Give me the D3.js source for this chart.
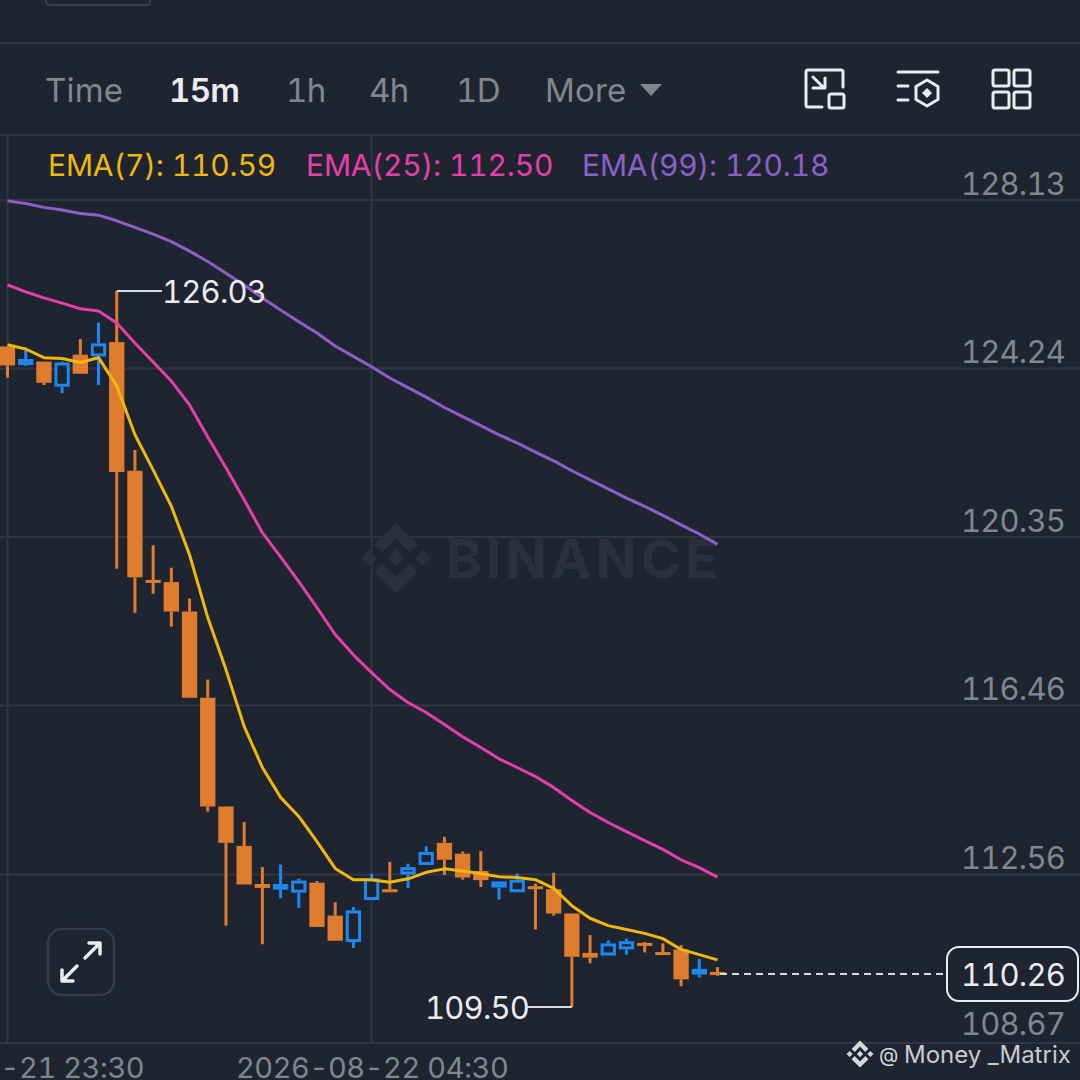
<!DOCTYPE html>
<html>
<head>
<meta charset="utf-8">
<script src="https://cdn.jsdelivr.net/npm/d3@7"></script>
<style>
html,body{margin:0;padding:0;background:#1f2530;}
svg{display:block;font-family:Inter,"Noto Sans",sans-serif;font-variant-numeric:tabular-nums;}
</style>
</head>
<body>
<svg id="chart" width="1080" height="1080"></svg>
<script>
var opens  = [124.75,124.32,124.40,123.82,124.56,124.52,124.85,121.88,119.36,119.31,118.63,116.64,114.13,113.22,112.34,112.21,112.14,112.37,111.61,111.00,111.97,112.22,112.56,112.78,113.29,113.04,112.64,112.26,112.15,112.29,112.22,111.66,110.75,110.69,110.83,110.98,110.77,110.83,110.25,110.31]
var highs  = [124.75,124.72,124.40,124.40,124.92,125.30,126.03,122.36,120.16,119.64,118.93,117.06,114.13,113.77,112.73,112.79,112.46,112.41,111.92,111.81,112.58,112.85,112.81,113.21,113.43,113.09,113.10,112.40,112.58,112.35,112.60,111.66,111.16,111.04,111.08,111.00,110.97,110.93,110.61,110.42]
var lows   = [124.03,124.30,123.86,123.67,124.12,123.86,119.62,118.60,119.04,118.28,116.64,114.01,111.38,112.33,110.95,112.01,111.79,111.35,111.03,110.86,111.97,112.15,112.25,112.78,112.55,112.44,112.27,111.98,112.15,111.29,111.61,109.50,110.51,110.69,110.71,110.76,110.70,109.98,110.18,110.22]
var closes = [124.31,124.46,123.91,124.38,124.12,124.82,121.85,119.42,119.30,118.63,116.64,114.13,113.29,112.33,112.25,112.34,112.42,111.35,111.03,111.73,112.47,112.15,112.73,113.08,112.90,112.49,112.43,112.40,112.44,112.22,111.66,110.66,110.64,110.97,111.02,110.91,110.70,110.14,110.38,110.26]
var ema7   = [124.79,124.69,124.49,124.47,124.38,124.49,123.84,122.71,121.90,121.06,119.94,118.49,117.29,115.98,115.03,114.34,113.90,113.32,112.70,112.44,112.44,112.38,112.46,112.61,112.69,112.64,112.58,112.51,112.49,112.44,112.24,111.84,111.55,111.38,111.29,111.20,111.08,110.83,110.71,110.59]
var ema25  = [126.17,126.01,125.87,125.75,125.62,125.57,125.29,124.83,124.39,123.95,123.40,122.66,121.95,121.21,120.45,119.89,119.32,118.72,118.10,117.63,117.22,116.83,116.53,116.30,116.02,115.74,115.49,115.23,115.03,114.82,114.57,114.27,113.99,113.76,113.55,113.34,113.14,112.90,112.72,112.50]
var ema99  = [128.11,128.05,127.96,127.90,127.82,127.78,127.65,127.50,127.34,127.17,126.95,126.71,126.44,126.17,125.87,125.59,125.32,125.06,124.76,124.52,124.28,124.02,123.80,123.58,123.34,123.13,122.92,122.71,122.52,122.31,122.11,121.88,121.67,121.46,121.25,121.06,120.85,120.63,120.42,120.18]
var priceTicks = [128.13,124.24,120.35,116.46,112.56,108.67]
var timeTicks = [0,20]
var timeLabels = ["2026-08-21 23:30","2026-08-22 04:30"]
var periods = ["Time","15m","1h","4h","1D","More"]
var legend = ["EMA(7): 110.59","EMA(25): 112.50","EMA(99): 120.18"]
var lastPrice = 110.26, highPrice = 126.03, lowPrice = 109.50

var BG = '#1f2530', GRID = '#2f3541', UP = '#1e88f2', DOWN = '#e07c2e', YELLOW = '#f0b70f', PINK = '#e63fa8', PURPLE = '#8b60c8'
var GREY = '#81878f', WHITE = '#eaecef'

var svg = d3.select('#chart')
var x = d3.scaleLinear().domain([0,39]).range([7.5,717.5])
var y = d3.scaleLinear().domain([128.13,108.67]).range([200,1043])
var candles = opens.map(function(o,i){return {i:i,o:o,h:highs[i],l:lows[i],c:closes[i]}})

function draw_header(){
	svg.append('path').attr('d','M46 0V1Q46 5 50 5H146Q150 5 150 1V0').attr('fill','none').attr('stroke','#3a404c').attr('stroke-width',2)
	svg.append('line').attr('x1',0).attr('x2',1080).attr('y1',43).attr('y2',43).attr('stroke',GRID).attr('stroke-width',2)
	svg.append('line').attr('x1',0).attr('x2',1080).attr('y1',135).attr('y2',135).attr('stroke',GRID).attr('stroke-width',2)
	var px = [45,169,286,369,456,545]
	svg.selectAll('.period').data(periods).enter().append('text')
		.attr('class','period')
		.attr('x',function(d,i){return px[i]})
		.attr('y',102)
		.attr('font-size',33)
		.attr('letter-spacing',function(d){return /\d/.test(d)?-0.7:0.2})
		.attr('font-weight',function(d){return d==='15m'?600:400})
		.attr('fill',function(d){return d==='15m'?WHITE:GREY})
		.text(function(d){return d})
	svg.append('path').attr('d','M640 84H662L651 96Z').attr('fill',GREY)

	var g = svg.append('g').attr('fill','none').attr('stroke',WHITE).attr('stroke-width',3).attr('stroke-linecap','round').attr('stroke-linejoin','round')
	g.append('path').attr('d','M843 87V72Q843 70 841 70H808Q806 70 806 72V105Q806 107 808 107H822')
	g.append('rect').attr('x',829).attr('y',94).attr('width',15).attr('height',14).attr('rx',2)
	g.append('path').attr('d','M813 77L824 88M813 88H825V78')
	g.append('path').attr('d','M898 72H938M898 86H908M898 100H908')
	g.append('path').attr('d','M927 80L938 86.5V99.5L927 106L916 99.5V86.5Z')
	svg.append('path').attr('d','M927 88L932 93L927 98L922 93Z').attr('fill',WHITE)
	;[993,1014].forEach(function(a){[70,92].forEach(function(b){
		g.append('rect').attr('x',a).attr('y',b).attr('width',16).attr('height',16).attr('rx',2)
	})})
}

function logo(g, cx, cy, size, color){
	var s = size/126
	var l = g.append('g').attr('transform','translate('+(cx-63*s)+','+(cy-63*s)+') scale('+s+')').attr('fill',color)
	var parts = ['M38.171 53.203l24.806-24.806 24.819 24.82 14.436-14.436L62.977 0 23.735 39.242z',
		'M0 62.963l14.436-14.436 14.435 14.435-14.436 14.436z',
		'M38.171 72.721l24.806 24.806 24.819-24.819 14.443 14.428-39.262 39.263-39.242-39.242z',
		'M97.09 62.97l14.436-14.436 14.435 14.436-14.435 14.435z',
		'M62.977 48.307L77.625 62.955 62.977 77.62 48.321 62.963z']
	parts.forEach(function(d){l.append('path').attr('d',d)})
}

function draw_grid(){
	svg.selectAll('.hgrid').data(priceTicks).enter().append('line')
		.attr('class','hgrid')
		.attr('x1',0).attr('x2',1080)
		.attr('y1',function(d){return y(d)}).attr('y2',function(d){return y(d)})
		.attr('stroke',GRID).attr('stroke-width',2)
	svg.selectAll('.vgrid').data(timeTicks).enter().append('line')
		.attr('class','vgrid')
		.attr('x1',function(d){return x(d)}).attr('x2',function(d){return x(d)})
		.attr('y1',135).attr('y2',1043)
		.attr('stroke',GRID).attr('stroke-width',2)

	logo(svg, 396, 558, 70, '#2b313c')
	svg.append('text').attr('x',446).attr('y',578).attr('font-size',54).attr('font-weight',700)
		.attr('letter-spacing',4.3).attr('fill','#2b313c').text('BINANCE')
}

function draw_axes(){
	var ya = d3.axisRight(y).tickValues(priceTicks).tickSize(0).tickFormat(d3.format('.2f'))
	var yg = svg.append('g').attr('transform','translate(1065,0)').call(ya)
	yg.select('.domain').remove()
	yg.selectAll('text').attr('x',0)
		.attr('dy',function(d){return d===108.67?-9:-6})
		.attr('text-anchor','end')
		.attr('letter-spacing',-0.8)
		.attr('font-size',31).attr('font-family','Inter,"Noto Sans",sans-serif').attr('fill',GREY)

	var xa = d3.axisBottom(x).tickValues(timeTicks).tickSize(0).tickFormat(function(d,i){return timeLabels[i]})
	var xg = svg.append('g').attr('transform','translate(0,1043)').call(xa)
	xg.select('.domain').remove()
	xg.selectAll('text').attr('y',35).attr('dy',0)
		.attr('letter-spacing',-0.4)
		.attr('font-size',29).attr('font-family','Inter,"Noto Sans",sans-serif').attr('fill',GREY)
}

function draw_candles(){
	var w = 15.3, sw = 3
	var g = svg.append('g')
	var sel = g.selectAll('.candle').data(candles).enter().append('g').attr('class','candle')
	function col(d){return d.c>=d.o?UP:DOWN}
	function top(d){return y(Math.max(d.o,d.c))}
	function bot(d){var t=top(d),b=y(Math.min(d.o,d.c));return Math.max(b,t+3)}
	// wicks only above and below the body, the up candles are hollow
	sel.append('line')
		.attr('x1',function(d){return x(d.i)}).attr('x2',function(d){return x(d.i)})
		.attr('y1',function(d){return y(d.h)}).attr('y2',top)
		.attr('stroke',col).attr('stroke-width',sw)
	sel.append('line')
		.attr('x1',function(d){return x(d.i)}).attr('x2',function(d){return x(d.i)})
		.attr('y1',bot).attr('y2',function(d){return y(d.l)})
		.attr('stroke',col).attr('stroke-width',sw)
	sel.append('rect')
		.attr('x',function(d){return x(d.i)-w/2})
		.attr('y',top)
		.attr('width',w)
		.attr('height',function(d){return bot(d)-top(d)})
		.attr('fill',col)
	sel.filter(function(d){return d.c>=d.o && bot(d)-top(d)>2*sw}).append('rect')
		.attr('x',function(d){return x(d.i)-w/2+sw})
		.attr('y',function(d){return top(d)+sw})
		.attr('width',w-2*sw)
		.attr('height',function(d){return bot(d)-top(d)-2*sw})
		.attr('fill',BG)
}

function draw_lines(){
	var line = d3.line().x(function(d,i){return x(i)}).y(function(d){return y(d)})
	;[[ema99,PURPLE],[ema25,PINK],[ema7,YELLOW]].forEach(function(s){
		svg.append('path').attr('d',line(s[0])).attr('fill','none').attr('stroke',s[1]).attr('stroke-width',3)
			.attr('stroke-linejoin','round')
	})
	var lx = [48,306,582], lc = [YELLOW,PINK,PURPLE]
	svg.selectAll('.legend').data(legend).enter().append('text')
		.attr('class','legend')
		.attr('x',function(d,i){return lx[i]})
		.attr('y',176)
		.attr('font-size',30)
		.attr('letter-spacing',-0.15)
		.attr('fill',function(d,i){return lc[i]})
		.text(function(d){return d})
}

function draw_marks(){
	var hx = x(highs.indexOf(highPrice)), lox = x(lows.indexOf(lowPrice))
	svg.append('path').attr('d','M'+hx+' '+y(highPrice)+'H162').attr('stroke','#d8dade').attr('stroke-width',2).attr('fill','none')
	svg.append('text').attr('x',162).attr('y',y(highPrice)+12).attr('font-size',31).attr('letter-spacing',-0.8).attr('fill',WHITE).text(d3.format('.2f')(highPrice))
	svg.append('path').attr('d','M527 '+y(lowPrice)+'H'+lox).attr('stroke','#d8dade').attr('stroke-width',2).attr('fill','none')
	svg.append('text').attr('x',425).attr('y',y(lowPrice)+12).attr('font-size',31).attr('letter-spacing',-0.8).attr('fill',WHITE).text(d3.format('.2f')(lowPrice))

	svg.append('line').attr('x1',720).attr('x2',946).attr('y1',y(lastPrice)).attr('y2',y(lastPrice))
		.attr('stroke','#d8dade').attr('stroke-width',2).attr('stroke-dasharray','7 5')
	svg.append('rect').attr('x',947).attr('y',947).attr('width',131).attr('height',54).attr('rx',12)
		.attr('fill',BG).attr('stroke',WHITE).attr('stroke-width',2)
	svg.append('text').attr('x',1065).attr('y',986).attr('text-anchor','end').attr('font-size',31).attr('letter-spacing',-0.8).attr('fill',WHITE).text(d3.format('.2f')(lastPrice))

	// expand button
	svg.append('rect').attr('x',48).attr('y',929).attr('width',66).attr('height',66).attr('rx',14)
		.attr('fill','none').attr('stroke','#343a46').attr('stroke-width',2.5)
	svg.append('path').attr('d','M85 958L100 943M89 943H100V954M77 966L62 981M62 970V981H73')
		.attr('fill','none').attr('stroke',WHITE).attr('stroke-width',3.5).attr('stroke-linecap','round').attr('stroke-linejoin','round')

	// repost stamp
	logo(svg, 860, 1054, 27, '#d6d8dc')
	svg.append('text').attr('x',879).attr('y',1062).attr('font-size',20).attr('fill','#d6d8dc').text('@')
	svg.append('text').attr('x',904).attr('y',1063).attr('font-size',24).attr('fill','#c8cbd0').text('Money _Matrix')
}

draw_grid()
draw_header()
draw_candles()
draw_lines()
draw_axes()
draw_marks()
</script>
</body>
</html>
